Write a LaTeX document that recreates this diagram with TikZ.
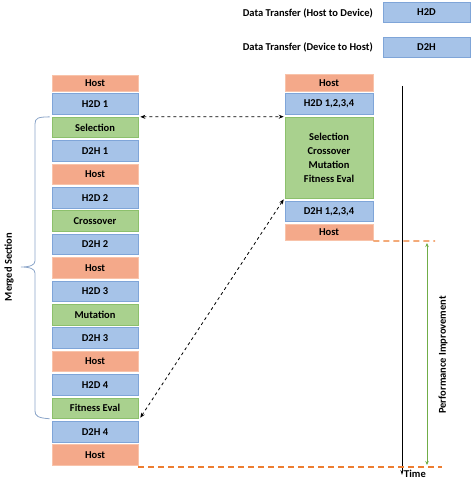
\documentclass[tikz,border=0pt]{standalone}
\usepackage{fontspec}
\setmainfont{Carlito}
\usetikzlibrary{arrows.meta,calc}
\definecolor{hostfill}{HTML}{F4A98A}
\definecolor{hostdraw}{HTML}{F8C3AA}
\definecolor{bluefill}{HTML}{A6C3E8}
\definecolor{bluedraw}{HTML}{7FA5D8}
\definecolor{greenfill}{HTML}{A9D18E}
\definecolor{greendraw}{HTML}{8CC06C}
\definecolor{orangeline}{HTML}{ED7D31}
\definecolor{greenline}{HTML}{70AD47}
\definecolor{bracecol}{HTML}{8AA4C8}
\tikzset{
  cell/.style={minimum width=86pt, minimum height=20.5pt, inner sep=0pt, font=\bfseries\fontsize{10.5}{12}\selectfont, line width=0.6pt},
  hostbox/.style={cell, fill=hostfill, draw=hostdraw},
  bluebox/.style={cell, fill=bluefill, draw=bluedraw},
  greenbox/.style={cell, fill=greenfill, draw=greendraw},
  lbl/.style={font=\bfseries\fontsize{10.5}{12}\selectfont, inner sep=0pt},
  dasharrow/.style={dashed, line width=0.8pt, {Stealth[length=5pt,width=4pt]}-{Stealth[length=5pt,width=4pt]}},
  odash/.style={draw=orangeline, line width=1.2pt, dash pattern=on 6pt off 4pt},
}
\begin{document}
\begin{tikzpicture}[x=1pt,y=-1pt]
\useasboundingbox (0,0) rectangle (474,481);
% legend
\node[bluebox, minimum width=87pt] (lh2d) at (426.5,12.5) {H2D};
\node[bluebox, minimum width=87pt] (ld2h) at (426.5,47.5) {D2H};
\node[lbl, anchor=east] (t1) at (373,13) {Data Transfer (Host to Device)};
\node[lbl, anchor=east] (t2) at (373,47) {Data Transfer (Device to Host)};
% left column
\node[hostbox, minimum height=16.5pt] (l0) at (95,83.5) {Host};
\node[bluebox] (l1) at (95,104) {H2D 1};
\node[greenbox] (l2) at (95,127.4) {Selection};
\node[bluebox] (l3) at (95,150.8) {D2H 1};
\node[hostbox] (l4) at (95,174.2) {Host};
\node[bluebox] (l5) at (95,197.6) {H2D 2};
\node[greenbox] (l6) at (95,221) {Crossover};
\node[bluebox] (l7) at (95,244.4) {D2H 2};
\node[hostbox] (l8) at (95,267.8) {Host};
\node[bluebox] (l9) at (95,291.2) {H2D 3};
\node[greenbox] (l10) at (95,314.6) {Mutation};
\node[bluebox] (l11) at (95,338) {D2H 3};
\node[hostbox] (l12) at (95,361.4) {Host};
\node[bluebox] (l13) at (95,384.8) {H2D 4};
\node[greenbox] (l14) at (95,408.2) {Fitness Eval};
\node[bluebox] (l15) at (95,431.6) {D2H 4};
\node[hostbox] (l16) at (95,455) {Host};
% right column
\node[hostbox, minimum width=88pt, minimum height=16.5pt] (r0) at (329,83) {Host};
\node[bluebox, minimum width=88pt] (r1) at (329,104) {H2D 1,2,3,4};
\node[greenbox, minimum width=88pt, minimum height=81pt, align=center, font=\bfseries\fontsize{10.5}{14}\selectfont] (r2) at (329,157.5) {Selection\\Crossover\\Mutation\\Fitness Eval};
\node[bluebox, minimum width=88pt] (r3) at (329,211.5) {D2H 1,2,3,4};
\node[hostbox, minimum width=88pt, minimum height=16.5pt] (r4) at (329,232.5) {Host};
% dashed arrows
\draw[dasharrow] ($(l2.north east)+(2,0)$) -- ($(r2.north west)+(-1,0)$);
\draw[dasharrow] ($(l14.south east)+(2,-1)$) -- ($(r2.south west)+(-1,1)$);
% brace
\draw[bracecol, line width=0.8pt] ($(l2.north west)+(-2,0)$) .. controls (38,117) and (35,118) .. (35,124)
  -- (35,261) .. controls (35,265) and (30,267) .. (21,267)
  .. controls (30,267) and (35,269) .. (35,273)
  -- (35,411) .. controls (35,416) and (38,418) .. ($(l14.south west)+(-2,0)$);
\node[lbl, rotate=90] (ms) at (9,267) {Merged Section};
% time axis
\coordinate (ttop) at (402,86);
\coordinate (tbot) at (402,475);
\draw[line width=0.8pt, -{Stealth[length=5pt,width=3pt]}] (ttop) -- (tbot);
\node[lbl, anchor=west] (time) at (404,474) {Time};
% orange dashed
\coordinate (o1) at (435,241);
\coordinate (o2) at (442,467);
\draw[odash] (r4.south east) -- (o1);
\draw[odash] (l16.south east |- o2) -- (o2);
% performance improvement
\coordinate (p1) at (427,243);
\coordinate (p2) at (427,465);
\draw[greenline, line width=0.9pt, {Stealth[length=4pt,width=3.5pt]}-{Stealth[length=4pt,width=3.5pt]}] (p1) -- (p2);
\node[lbl, rotate=90] (pi) at (443,355) {Performance Improvement};
\end{tikzpicture}
\end{document}
